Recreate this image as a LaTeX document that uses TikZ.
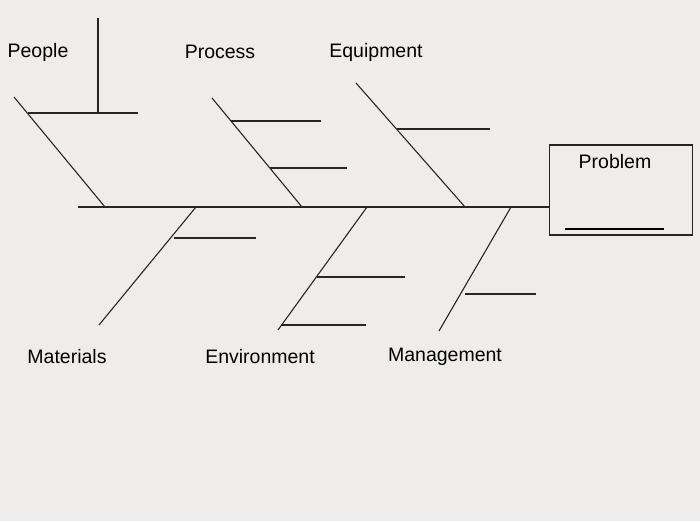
\documentclass[tikz,border=0pt]{standalone}
\usepackage{fontspec}
\setmainfont{Liberation Sans}
\begin{document}
\begin{tikzpicture}[x=1pt,y=-1pt,
  bone/.style={draw=black!85,line width=1.1pt},
  lbl/.style={font=\fontsize{19.5}{22}\selectfont,inner sep=0pt}]
\fill[fill={rgb,255:red,238;green,237;blue,235}] (0,0) rectangle (700,521);
\useasboundingbox (0,0) rectangle (700,521);
% spine and head
\coordinate (tail) at (78,207);
\node[bone,minimum width=143pt,minimum height=90pt,inner sep=0pt,anchor=west] (head) at (549,190) {};
\draw[bone] (tail) -- (head.west |- tail);
\node[lbl] (prob) at (615,162) {Problem};
\coordinate (u1) at (565,229); \coordinate (u2) at (664,229);
\draw[draw=black,line width=2pt] (u1) -- (u2);
% People
\coordinate (p1) at (14,97); \coordinate (p2) at (105,207);
\draw[bone] (p1) -- (p2);
\coordinate (pv1) at (98,18); \coordinate (pv2) at (98,113);
\draw[bone] (pv1) -- (pv2);
\coordinate (ph1) at (28,113); \coordinate (ph2) at (138,113);
\draw[bone] (ph1) -- (ph2);
% Process
\coordinate (q1) at (212,98); \coordinate (q2) at (302,207);
\draw[bone] (q1) -- (q2);
\coordinate (qa1) at (231,121); \coordinate (qa2) at (321,121);
\coordinate (qb1) at (270,168); \coordinate (qb2) at (347,168);
\draw[bone] (qa1) -- (qa2); \draw[bone] (qb1) -- (qb2);
% Equipment
\coordinate (e1) at (356,83); \coordinate (e2) at (465,207);
\draw[bone] (e1) -- (e2);
\coordinate (ea1) at (397,129); \coordinate (ea2) at (490,129);
\draw[bone] (ea1) -- (ea2);
% Materials
\coordinate (m1) at (196,207); \coordinate (m2) at (99,325);
\draw[bone] (m1) -- (m2);
\coordinate (ma1) at (174,238); \coordinate (ma2) at (256,238);
\draw[bone] (ma1) -- (ma2);
% Environment
\coordinate (n1) at (367,207); \coordinate (n2) at (278,330);
\draw[bone] (n1) -- (n2);
\coordinate (na1) at (317,277); \coordinate (na2) at (405,277);
\coordinate (nb1) at (281,325); \coordinate (nb2) at (366,325);
\draw[bone] (na1) -- (na2); \draw[bone] (nb1) -- (nb2);
% Management
\coordinate (g1) at (511,207); \coordinate (g2) at (439,331);
\draw[bone] (g1) -- (g2);
\coordinate (ga1) at (465,294); \coordinate (ga2) at (536,294);
\draw[bone] (ga1) -- (ga2);
% labels
\node[lbl] (lp) at (38,52) {People};
\node[lbl] (lq) at (220,52) {Process};
\node[lbl] (le) at (376,52) {Equipment};
\node[lbl] (lm) at (67,357) {Materials};
\node[lbl] (ln) at (260,357) {Environment};
\node[lbl] (lg) at (445,357) {Management};
\end{tikzpicture}
\end{document}
